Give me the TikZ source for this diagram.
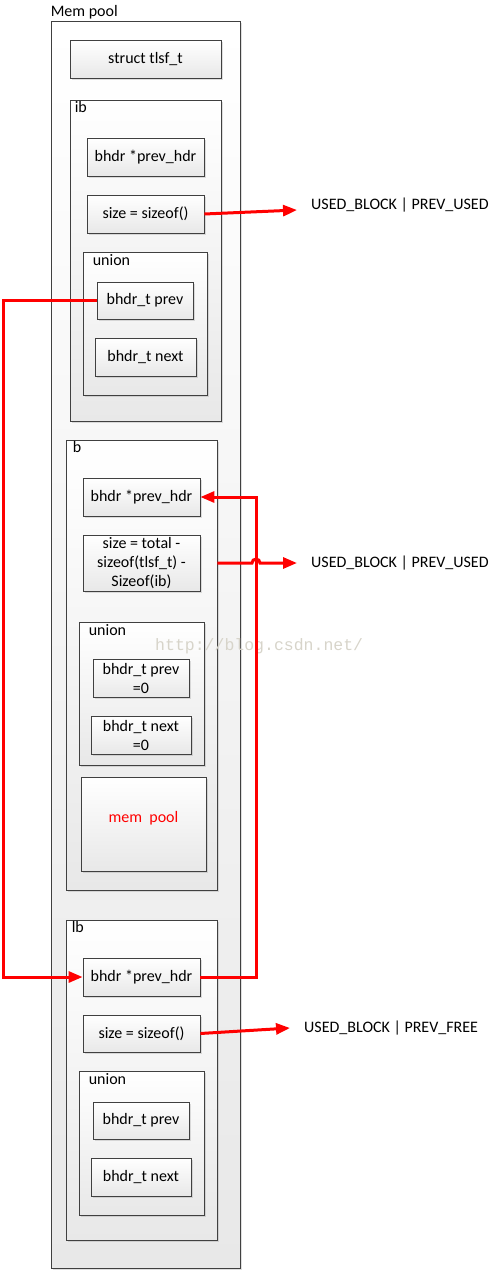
\documentclass[tikz,border=0pt]{standalone}
\usepackage{fontspec}
\setmainfont{Carlito}
\newfontfamily\wmfont{Liberation Mono}
\usetikzlibrary{arrows.meta,shadows}

\definecolor{linkred}{RGB}{255,0,0}
\definecolor{edgegray}{RGB}{64,64,64}
\definecolor{wmgray}{RGB}{215,212,202}

\tikzset{
  box/.style={draw=edgegray, line width=0.8pt, top color=white, bottom color=black!9,
    drop shadow={shadow xshift=2pt, shadow yshift=-2pt, opacity=0.25},
    inner sep=2pt, align=center, font=\fontsize{16}{19}\selectfont},
  tag/.style={anchor=base west, inner sep=0pt, font=\fontsize{16}{19}\selectfont},
  link/.style={draw=linkred, line width=3pt, -{Triangle[length=14pt,width=11pt]}},
}

\begin{document}
\begin{tikzpicture}[x=1pt, y=-1pt]
\useasboundingbox (0,0) rectangle (500,1271);

% outer pool
\node[box, minimum width=189, minimum height=1247] (pool) at (145.5,644.5) {};
\node[tag] (poolLbl) at ([yshift=4.5pt]pool.north west) {Mem pool};

\node[box, minimum width=151, minimum height=38] (tlsf) at (145.5,59) {struct tlsf\_t};

% ib
\node[box, minimum width=151, minimum height=321] (ib) at (145.5,260.5) {};
\node[tag] (ibLbl) at ([xshift=5pt,yshift=-13pt]ib.north west) {ib};
\node[box, minimum width=117, minimum height=38] (ibhdr) at (145.5,157) {bhdr *prev\_hdr};
\node[box, minimum width=117, minimum height=38] (ibsize) at (145.5,214) {size = sizeof()};
\node[box, minimum width=124, minimum height=143] (ibunion) at (145,323.5) {};
\node[tag] (ibunionLbl) at ([xshift=10pt,yshift=-14pt]ibunion.north west) {union};
\node[box, minimum width=96, minimum height=37] (ibprev) at (145,300.5) {bhdr\_t prev};
\node[box, minimum width=101, minimum height=38] (ibnext) at (145.5,357) {bhdr\_t next};

% b
\node[box, minimum width=151, minimum height=450] (b) at (141.5,665) {};
\node[tag] (bLbl) at ([xshift=7pt,yshift=-13pt]b.north west) {b};
\node[box, minimum width=117, minimum height=38] (bhdr) at (141.5,497) {bhdr *prev\_hdr};
\node[box, minimum width=117, minimum height=56] (bsize) at (141.5,563) {size = total -\\sizeof(tlsf\_t) -\\Sizeof(ib)};
\node[box, minimum width=125, minimum height=143] (bunion) at (141.5,693.5) {};
\node[tag] (bunionLbl) at ([xshift=10pt,yshift=-14pt]bunion.north west) {union};
\node[box, minimum width=96, minimum height=38] (bprev) at (141,678) {bhdr\_t prev\\=0};
\node[box, minimum width=100, minimum height=38] (bnext) at (141,735) {bhdr\_t next\\=0};
\node[box, minimum width=125, minimum height=94, text=linkred, text depth=14pt] (bmem) at (143.5,824) {mem\ \ pool};

% lb
\node[box, minimum width=151, minimum height=320] (lb) at (141.5,1080) {};
\node[tag] (lbLbl) at ([xshift=6pt,yshift=-13pt]lb.north west) {lb};
\node[box, minimum width=117, minimum height=38] (lbhdr) at (141.5,977) {bhdr *prev\_hdr};
\node[box, minimum width=117, minimum height=37] (lbsize) at (141.5,1033.5) {size = sizeof()};
\node[box, minimum width=125, minimum height=144] (lbunion) at (141.5,1143) {};
\node[tag] (lbunionLbl) at ([xshift=10pt,yshift=-14pt]lbunion.north west) {union};
\node[box, minimum width=96, minimum height=37] (lbprev) at (141,1120.5) {bhdr\_t prev};
\node[box, minimum width=100, minimum height=38] (lbnext) at (141,1177) {bhdr\_t next};

% flags
\node[tag, anchor=west] (flagIb) at (311,205) {USED\_BLOCK | PREV\_USED};
\node[tag, anchor=west] (flagB) at (311,563) {USED\_BLOCK | PREV\_USED};
\node[tag, anchor=west] (flagLb) at (304,1028) {USED\_BLOCK | PREV\_FREE};

\node[wmgray, font=\wmfont\fontsize{16.5}{18}\selectfont, anchor=west, inner sep=0pt] (mark) at (155,646) {http://blog.csdn.net/};

\coordinate (railL) at (3,0);
\coordinate (railR) at (256,0);

\draw[link] (ibsize.east) -- ([xshift=-14pt,yshift=-5pt]flagIb.west);
\draw[link] (b.east |- bsize.east) -- ([xshift=-4pt]railR |- bsize.east)
  arc[start angle=180, end angle=0, radius=4pt] -- ([xshift=-14pt]flagB.west);
\draw[link] (lbsize.east) -- ([xshift=-14pt]flagLb.west);

\draw[link] (ibprev.west) -- (ibprev.west -| railL) -- (lbhdr.west -| railL) -- (lbhdr.west);
\draw[link] (lbhdr.east) -- (lbhdr.east -| railR) -- (bhdr.east -| railR) -- (bhdr.east);

\end{tikzpicture}
\end{document}
